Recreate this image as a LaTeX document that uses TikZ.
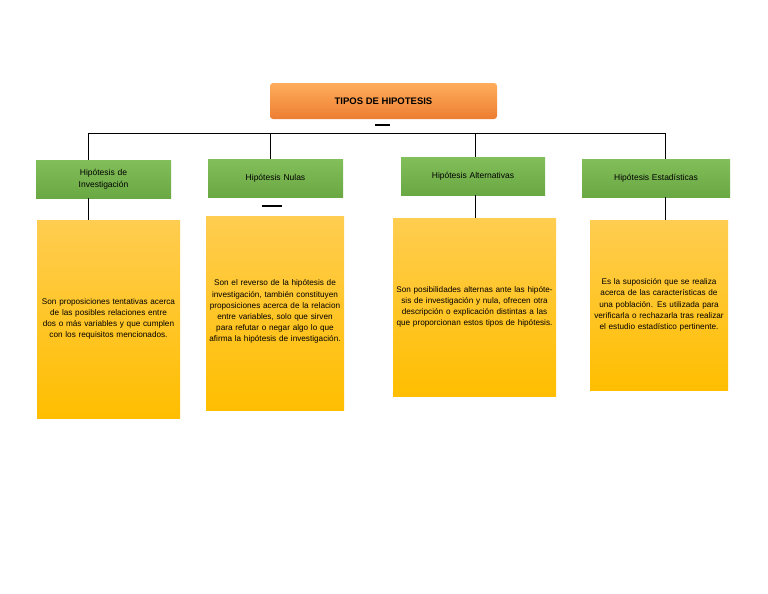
\documentclass[tikz,border=0pt]{standalone}
\usepackage{fontspec}
\setmainfont{Liberation Sans}
\begin{document}
\begin{tikzpicture}[x=1pt,y=-1pt,
  title/.style={draw=none,rounded corners=3pt,top color=orange!60!white!90!orange,bottom color={rgb,255:red,237;green,125;blue,49},minimum width=227pt,minimum height=36pt,font=\bfseries\fontsize{9.5}{11}\selectfont},
  green/.style={top color={rgb,255:red,130;green,190;blue,90},bottom color={rgb,255:red,106;green,168;blue,68},text width=#1,align=center,minimum height=38pt,inner sep=2pt,font=\fontsize{8.5}{12}\selectfont},
  yel/.style={top color={rgb,255:red,255;green,205;blue,80},bottom color={rgb,255:red,255;green,190;blue,0},text width=#1,align=center,inner sep=3pt,font=\fontsize{8.2}{11.2}\selectfont},
  ln/.style={draw=black,line width=0.9pt}]
\fill[white] (0,0) rectangle (768,594);
\node[title] (t) at (383.5,101) {TIPOS DE HIPOTESIS};
\node[green=131pt] (g1) at (103.5,179) {Hipótesis de\\Investigación};
\node[green=131pt] (g2) at (275.5,178.5) {Hipótesis Nulas};
\node[green=140pt] (g3) at (473,176) {Hipótesis Alternativas};
\node[green=144pt] (g4) at (656,178) {Hipótesis Estadísticas};
\node[yel=137pt,minimum height=198pt] (y1) at (108.5,319) {Son proposiciones tentativas acerca de las posibles relaciones entre dos o más variables y que cumplen con los requisitos mencionados.};
\node[yel=132pt,minimum height=194pt,anchor=north] (y2) at (275,216) {\\[-8pt]Son el reverso de la hipótesis de investigación, también constituyen proposiciones acerca de la relacion entre variables, solo que sirven para refutar o negar algo lo que afirma la hipótesis de investigación.};
\node[yel=157pt,minimum height=178pt] (y3) at (474.5,307) {Son posibilidades alternas ante las hipótesis de investigación y nula, ofrecen otra descripción o explicación distintas a las que proporcionan estos tipos de hipótesis.};
\node[yel=132pt,minimum height=170pt] (y4) at (659,305) {Es la suposición que se realiza acerca de las características de una población. Es utilizada para verificarla o rechazarla tras realizar el estudio estadístico pertinente.};
\coordinate (h1) at (88,133);
\coordinate (h2) at (270,133);
\coordinate (h3) at (475,133);
\coordinate (h4) at (665,133);
\draw[ln] (g1.north -| h1) -- (h1) -- (h4) -- (g4.north -| h4);
\draw[ln] (h2) -- (g2.north -| h2);
\draw[ln] (h3) -- (g3.north -| h3);
\draw[ln] (g1.south -| h1) -- (y1.north -| h1);
\draw[ln] (g3.south -| h3) -- (y3.north -| h3);
\draw[ln] (g4.south -| h4) -- (y4.north -| h4);
\coordinate (d1a) at (375,125); \coordinate (d1b) at (390,125);
\draw[ln,line width=1.5pt] (d1a) -- (d1b);
\coordinate (d2a) at (262,206); \coordinate (d2b) at (282,206);
\draw[ln,line width=1.5pt] (d2a) -- (d2b);
\end{tikzpicture}
\end{document}
